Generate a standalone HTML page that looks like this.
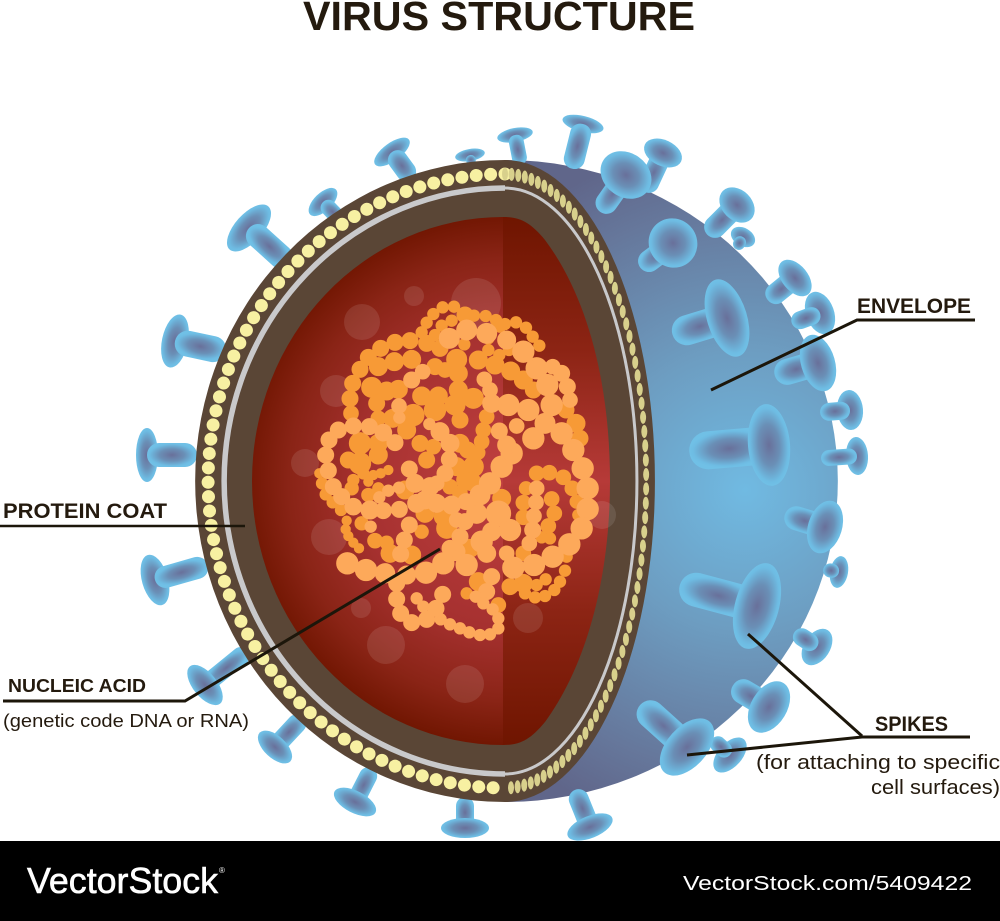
<!DOCTYPE html>
<html>
<head>
<meta charset="utf-8">
<style>
html,body{margin:0;padding:0;background:#fff;}
svg{display:block;}
text{font-family:"Liberation Sans",sans-serif;}
</style>
</head>
<body>
<svg xmlns="http://www.w3.org/2000/svg" width="1000" height="921" viewBox="0 0 1000 921">
<defs>
<radialGradient id="s"><stop offset="0" stop-color="#69709a"/><stop offset=".5" stop-color="#6a8fb6"/><stop offset=".9" stop-color="#6ebce3"/><stop offset="1" stop-color="#70c0e6"/></radialGradient>
<radialGradient id="body" gradientUnits="userSpaceOnUse" cx="745" cy="490" r="350"><stop offset="0" stop-color="#70bae2"/><stop offset=".4" stop-color="#6d9dc1"/><stop offset=".8" stop-color="#66789c"/><stop offset="1" stop-color="#60668a"/></radialGradient>
<radialGradient id="cavL" gradientUnits="userSpaceOnUse" cx="510" cy="480" r="270"><stop offset="0" stop-color="#c04040"/><stop offset=".55" stop-color="#a63130"/><stop offset=".82" stop-color="#8a2416"/><stop offset="1" stop-color="#6f1500"/></radialGradient>
<linearGradient id="cavR" x1="0" y1="0" x2="0" y2="1"><stop offset="0" stop-color="#6f1500"/><stop offset=".25" stop-color="#8c2414"/><stop offset=".5" stop-color="#b63a38"/><stop offset=".75" stop-color="#8c2414"/><stop offset="1" stop-color="#6f1500"/></linearGradient>
</defs>

<rect width="1000" height="921" fill="#fff"/>

<!-- blue body -->
<path d="M505,160 A333,321 0 0 1 505,802 Z" fill="url(#body)"/>

<!-- spikes -->
<g fill="url(#s)">
<g transform="translate(249,228) rotate(42)"><ellipse rx="14" ry="29"/><rect y="-12" width="55" height="24" rx="12"/></g>
<g transform="translate(323,202) rotate(46)"><ellipse rx="9" ry="18"/><rect y="-8" width="28" height="16" rx="8"/></g>
<g transform="translate(392,152) rotate(54)"><ellipse rx="9" ry="21"/><rect y="-10" width="34" height="20" rx="10"/></g>
<g transform="translate(470,155) rotate(80)"><ellipse rx="6" ry="15"/><rect y="-5" width="10" height="10" rx="5"/></g>
<g transform="translate(515,135) rotate(79)"><ellipse rx="7" ry="18"/><rect y="-7.5" width="30" height="15" rx="7"/></g>
<g transform="translate(583,124) rotate(104)"><ellipse rx="8" ry="21"/><rect y="-10.5" width="46" height="21" rx="10"/></g>
<g transform="translate(663,153) rotate(115)"><rect y="-10" width="43" height="20" rx="10"/><ellipse rx="13" ry="20"/></g>
<g transform="translate(626,175) rotate(125)"><rect y="-11" width="45" height="22" rx="11"/><ellipse rx="22" ry="27"/></g>
<g transform="translate(673,243) rotate(143)"><rect y="-11" width="41" height="22" rx="11"/><ellipse rx="24" ry="25"/></g>
<g transform="translate(737,205) rotate(135)"><rect y="-11" width="42" height="22" rx="11"/><ellipse rx="15" ry="20"/></g>
<g transform="translate(743,237) rotate(120)"><ellipse rx="9" ry="13"/><rect y="-6" width="14" height="12" rx="6"/></g>
<g transform="translate(795,278) rotate(141)"><rect y="-10.5" width="35" height="21" rx="10"/><ellipse rx="13" ry="21"/></g>
<g transform="translate(820,313) rotate(160)"><ellipse rx="14" ry="22"/><rect y="-9" width="30" height="18" rx="9"/></g>
<g transform="translate(727,318) rotate(163)"><rect y="-15" width="57" height="30" rx="15"/><ellipse rx="20" ry="40"/></g>
<g transform="translate(818,363) rotate(164)"><rect y="-13" width="45" height="26" rx="13"/><ellipse rx="17" ry="29"/></g>
<g transform="translate(850,410) rotate(175)"><ellipse rx="13" ry="20"/><rect y="-9" width="30" height="18" rx="9"/></g>
<g transform="translate(857,456) rotate(176)"><ellipse rx="11" ry="19"/><rect y="-8" width="36" height="16" rx="8"/></g>
<g transform="translate(769,445) rotate(175)"><rect y="-19" width="80" height="38" rx="19"/><ellipse rx="21" ry="41"/></g>
<g transform="translate(825,527) rotate(-163)"><rect y="-12" width="42" height="24" rx="12"/><ellipse rx="17" ry="27"/></g>
<g transform="translate(839,572) rotate(-170)"><ellipse rx="9" ry="16"/><rect y="-7" width="16" height="14" rx="7"/></g>
<g transform="translate(757,606) rotate(-165)"><rect y="-17" width="80" height="34" rx="17"/><ellipse rx="22" ry="44"/></g>
<g transform="translate(817,647) rotate(-147)"><ellipse rx="13" ry="20"/><rect y="-9" width="27" height="18" rx="9"/></g>
<g transform="translate(769,707) rotate(-149)"><rect y="-12.5" width="42" height="25" rx="12"/><ellipse rx="18" ry="28"/></g>
<g transform="translate(730,755) rotate(-138)"><ellipse rx="12" ry="21"/><rect y="-8" width="24" height="16" rx="8"/></g>
<g transform="translate(687,747) rotate(-138)"><rect y="-14" width="63" height="28" rx="14"/><ellipse rx="20" ry="34"/></g>
<g transform="translate(590,827) rotate(-112)"><rect y="-10" width="40" height="20" rx="10"/><ellipse rx="11" ry="24"/></g>
<g transform="translate(465,828) rotate(-90)"><rect y="-9" width="31" height="18" rx="9"/><ellipse rx="10" ry="24"/></g>
<g transform="translate(355,802) rotate(-63)"><rect y="-9" width="38" height="18" rx="9"/><ellipse rx="11" ry="23"/></g>
<g transform="translate(275,747) rotate(-47)"><rect y="-9.5" width="41" height="19" rx="9"/><ellipse rx="11" ry="21"/></g>
<g transform="translate(205,685) rotate(-39)"><rect y="-9" width="55" height="18" rx="9"/><ellipse rx="12" ry="24"/></g>
<g transform="translate(155,580) rotate(-16)"><ellipse rx="13" ry="26"/><rect y="-11" width="55" height="22" rx="11"/></g>
<g transform="translate(147,455)"><ellipse rx="11" ry="27"/><rect y="-12" width="50" height="24" rx="12"/></g>
<g transform="translate(175,341) rotate(12)"><ellipse rx="13" ry="27"/><rect y="-13" width="52" height="26" rx="13"/></g>
</g>

<!-- shell -->
<path d="M505,160 A310,321 0 0 0 505,802 A150,321 0 0 0 505,160 Z" fill="#5a4636"/>
<!-- gray ring -->
<path d="M505,188 A281,293 0 0 0 505,774" fill="none" stroke="#c9c9cb" stroke-width="5.5"/>
<path d="M505,188 A132,293 0 0 1 505,774" fill="none" stroke="#c9c9cb" stroke-width="3"/>
<!-- beads -->
<path d="M505,174 A297,307 0 0 0 505,788" fill="none" stroke="#f7f0a2" stroke-width="13" stroke-linecap="round" stroke-dasharray="0.01 14.4"/>
<g transform="translate(505,0) scale(.46,1)"><path d="M0,174 A307,307 0 0 1 0,788" fill="none" stroke="#d8d08c" stroke-width="13" stroke-linecap="round" stroke-dasharray="0.01 14.4"/></g>

<!-- cavity -->
<path d="M503,217 A251,264 0 0 0 503,745 Z" fill="url(#cavL)"/>
<path d="M503,217 C520,217 530,222 545,240 C590,300 610,390 610,481 C610,570 590,660 545,722 C530,740 520,745 503,745 Z" fill="url(#cavR)"/>

<!-- faint spots -->
<g fill="#fff" fill-opacity=".1">
<circle cx="362" cy="322" r="18"/><circle cx="414" cy="296" r="10"/><circle cx="476" cy="303" r="25"/>
<circle cx="336" cy="391" r="16"/><circle cx="305" cy="463" r="14"/><circle cx="329" cy="537" r="18"/>
<circle cx="361" cy="608" r="10"/><circle cx="386" cy="645" r="19"/><circle cx="465" cy="684" r="19"/>
<circle cx="528" cy="618" r="15"/><circle cx="602" cy="515" r="14"/>
</g>

<!-- nucleic acid -->
<g transform="translate(310,300) scale(.33333)">
<g fill="#f79a36" stroke="#f79a36" stroke-width="7">
<circle cx="398" cy="22" r="15"/><circle cx="432" cy="20" r="15"/><circle cx="370" cy="42" r="15"/><circle cx="350" cy="68" r="15"/><circle cx="465" cy="45" r="22"/><circle cx="492" cy="47" r="15"/><circle cx="527" cy="48" r="15"/><circle cx="558" cy="60" r="15"/><circle cx="585" cy="72" r="15"/><circle cx="618" cy="67" r="15"/><circle cx="648" cy="83" r="15"/><circle cx="668" cy="110" r="15"/><circle cx="688" cy="137" r="15"/><circle cx="425" cy="62" r="15"/><circle cx="395" cy="77" r="15"/><circle cx="375" cy="105" r="15"/><circle cx="335" cy="97" r="15"/><circle cx="300" cy="122" r="22"/><circle cx="255" cy="127" r="22"/><circle cx="212" cy="145" r="22"/><circle cx="175" cy="172" r="22"/><circle cx="150" cy="208" r="22"/><circle cx="128" cy="250" r="22"/><circle cx="120" cy="296" r="22"/><circle cx="123" cy="340" r="20"/><circle cx="205" cy="200" r="25"/><circle cx="253" cy="185" r="25"/><circle cx="305" cy="178" r="25"/><circle cx="185" cy="262" r="28"/><circle cx="230" cy="273" r="25"/><circle cx="265" cy="268" r="25"/><circle cx="335" cy="288" r="25"/><circle cx="385" cy="288" r="25"/><circle cx="375" cy="330" r="30"/><circle cx="310" cy="345" r="30"/><circle cx="290" cy="390" r="25"/><circle cx="248" cy="355" r="25"/><circle cx="205" cy="355" r="20"/><circle cx="200" cy="310" r="22"/><circle cx="350" cy="130" r="22"/><circle cx="390" cy="145" r="22"/><circle cx="440" cy="178" r="28"/><circle cx="375" cy="200" r="22"/><circle cx="405" cy="210" r="20"/><circle cx="445" cy="220" r="25"/><circle cx="505" cy="180" r="25"/><circle cx="555" cy="195" r="25"/><circle cx="602" cy="213" r="25"/><circle cx="535" cy="150" r="15"/><circle cx="568" cy="165" r="15"/><circle cx="597" cy="150" r="15"/><circle cx="598" cy="115" r="15"/><circle cx="463" cy="133" r="15"/><circle cx="570" cy="80" r="15"/><circle cx="535" cy="115" r="15"/><circle cx="445" cy="270" r="25"/><circle cx="435" cy="315" r="28"/><circle cx="490" cy="295" r="28"/><circle cx="450" cy="360" r="22"/><circle cx="530" cy="350" r="20"/><circle cx="520" cy="390" r="20"/><circle cx="515" cy="425" r="20"/><circle cx="505" cy="458" r="18"/><circle cx="473" cy="450" r="22"/><circle cx="490" cy="500" r="28"/><circle cx="470" cy="540" r="28"/><circle cx="450" cy="580" r="20"/><circle cx="640" cy="240" r="25"/><circle cx="670" cy="270" r="22"/><circle cx="768" cy="330" r="22"/><circle cx="798" cy="370" r="25"/><circle cx="810" cy="415" r="22"/><circle cx="718" cy="518" r="20"/><circle cx="760" cy="532" r="20"/><circle cx="787" cy="565" r="20"/><circle cx="800" cy="605" r="18"/><circle cx="805" cy="645" r="15"/><circle cx="725" cy="597" r="20"/><circle cx="733" cy="640" r="20"/><circle cx="715" cy="678" r="20"/><circle cx="720" cy="715" r="15"/><circle cx="695" cy="712" r="15"/><circle cx="640" cy="608" r="20"/><circle cx="640" cy="652" r="20"/><circle cx="648" cy="565" r="18"/><circle cx="680" cy="520" r="20"/><circle cx="640" cy="760" r="20"/><circle cx="575" cy="595" r="25"/><circle cx="150" cy="430" r="30"/><circle cx="205" cy="430" r="25"/><circle cx="115" cy="480" r="22"/><circle cx="150" cy="490" r="30"/><circle cx="205" cy="465" r="25"/><circle cx="160" cy="520" r="15"/><circle cx="235" cy="510" r="12"/><circle cx="212" cy="520" r="12"/><circle cx="190" cy="525" r="12"/><circle cx="175" cy="545" r="12"/><circle cx="205" cy="565" r="15"/><circle cx="175" cy="585" r="18"/><circle cx="125" cy="565" r="18"/><circle cx="130" cy="540" r="15"/><circle cx="36" cy="550" r="15"/><circle cx="28" cy="520" r="12"/><circle cx="47" cy="583" r="15"/><circle cx="68" cy="607" r="15"/><circle cx="93" cy="630" r="15"/><circle cx="110" cy="662" r="12"/><circle cx="107" cy="688" r="12"/><circle cx="115" cy="708" r="12"/><circle cx="130" cy="728" r="12"/><circle cx="147" cy="745" r="12"/><circle cx="155" cy="670" r="18"/><circle cx="195" cy="722" r="20"/><circle cx="230" cy="728" r="18"/><circle cx="240" cy="760" r="25"/><circle cx="305" cy="765" r="25"/><circle cx="335" cy="695" r="18"/><circle cx="410" cy="685" r="28"/><circle cx="480" cy="745" r="25"/><circle cx="505" cy="845" r="25"/><circle cx="470" cy="880" r="15"/><circle cx="600" cy="860" r="22"/><circle cx="640" cy="850" r="25"/><circle cx="680" cy="855" r="15"/><circle cx="707" cy="838" r="15"/><circle cx="733" cy="870" r="15"/><circle cx="750" cy="845" r="15"/><circle cx="765" cy="812" r="15"/><circle cx="705" cy="888" r="15"/><circle cx="675" cy="892" r="15"/><circle cx="645" cy="880" r="15"/><circle cx="610" cy="860" r="15"/><circle cx="565" cy="915" r="20"/><circle cx="770" cy="770" r="15"/><circle cx="485" cy="545" r="25"/><circle cx="420" cy="560" r="20"/><circle cx="400" cy="650" r="25"/><circle cx="345" cy="640" r="25"/><circle cx="285" cy="570" r="25"/><circle cx="330" cy="430" r="22"/><circle cx="350" cy="480" r="22"/><circle cx="450" cy="430" r="25"/><circle cx="440" cy="500" r="25"/><circle cx="370" cy="440" r="20"/>
</g>
<g fill="#fda95a" stroke="#fda95a" stroke-width="7">
<circle cx="418" cy="115" r="28"/><circle cx="470" cy="90" r="28"/><circle cx="530" cy="100" r="28"/><circle cx="590" cy="120" r="25"/><circle cx="640" cy="155" r="30"/><circle cx="680" cy="205" r="30"/><circle cx="712" cy="255" r="30"/><circle cx="728" cy="200" r="20"/><circle cx="755" cy="220" r="22"/><circle cx="772" cy="260" r="22"/><circle cx="780" cy="300" r="20"/><circle cx="725" cy="315" r="30"/><circle cx="655" cy="330" r="30"/><circle cx="595" cy="315" r="30"/><circle cx="545" cy="310" r="25"/><circle cx="338" cy="215" r="20"/><circle cx="305" cy="240" r="22"/><circle cx="523" cy="238" r="20"/><circle cx="540" cy="270" r="20"/><circle cx="267" cy="318" r="20"/><circle cx="268" cy="353" r="15"/><circle cx="358" cy="372" r="15"/><circle cx="390" cy="395" r="25"/><circle cx="420" cy="430" r="25"/><circle cx="418" cy="478" r="22"/><circle cx="405" cy="520" r="22"/><circle cx="360" cy="560" r="25"/><circle cx="315" cy="550" r="25"/><circle cx="298" cy="507" r="22"/><circle cx="255" cy="428" r="22"/><circle cx="220" cy="398" r="23"/><circle cx="178" cy="380" r="22"/><circle cx="130" cy="378" r="22"/><circle cx="85" cy="390" r="22"/><circle cx="57" cy="420" r="22"/><circle cx="47" cy="465" r="22"/><circle cx="55" cy="512" r="22"/><circle cx="70" cy="560" r="22"/><circle cx="95" cy="590" r="22"/><circle cx="130" cy="620" r="23"/><circle cx="180" cy="630" r="25"/><circle cx="220" cy="632" r="22"/><circle cx="268" cy="628" r="22"/><circle cx="320" cy="610" r="25"/><circle cx="345" cy="600" r="25"/><circle cx="380" cy="610" r="25"/><circle cx="425" cy="615" r="25"/><circle cx="468" cy="605" r="22"/><circle cx="510" cy="585" r="28"/><circle cx="540" cy="550" r="30"/><circle cx="575" cy="500" r="30"/><circle cx="605" cy="460" r="30"/><circle cx="590" cy="435" r="25"/><circle cx="568" cy="393" r="22"/><circle cx="620" cy="378" r="20"/><circle cx="670" cy="415" r="30"/><circle cx="705" cy="370" r="28"/><circle cx="755" cy="400" r="30"/><circle cx="790" cy="450" r="30"/><circle cx="818" cy="505" r="30"/><circle cx="833" cy="565" r="30"/><circle cx="833" cy="627" r="30"/><circle cx="815" cy="685" r="30"/><circle cx="778" cy="733" r="30"/><circle cx="728" cy="770" r="30"/><circle cx="672" cy="795" r="30"/><circle cx="610" cy="803" r="30"/><circle cx="565" cy="640" r="35"/><circle cx="600" cy="690" r="30"/><circle cx="545" cy="695" r="25"/><circle cx="515" cy="725" r="30"/><circle cx="465" cy="665" r="22"/><circle cx="450" cy="710" r="22"/><circle cx="438" cy="755" r="25"/><circle cx="400" cy="790" r="30"/><circle cx="348" cy="818" r="30"/><circle cx="470" cy="795" r="30"/><circle cx="545" cy="830" r="22"/><circle cx="530" cy="875" r="22"/><circle cx="497" cy="890" r="15"/><circle cx="520" cy="910" r="15"/><circle cx="548" cy="928" r="15"/><circle cx="565" cy="955" r="15"/><circle cx="565" cy="985" r="15"/><circle cx="540" cy="1003" r="15"/><circle cx="510" cy="1005" r="15"/><circle cx="478" cy="997" r="15"/><circle cx="450" cy="985" r="15"/><circle cx="420" cy="973" r="15"/><circle cx="392" cy="958" r="15"/><circle cx="350" cy="958" r="22"/><circle cx="305" cy="968" r="22"/><circle cx="272" cy="940" r="22"/><circle cx="260" cy="897" r="22"/><circle cx="260" cy="850" r="22"/><circle cx="320" cy="895" r="15"/><circle cx="340" cy="920" r="15"/><circle cx="378" cy="925" r="22"/><circle cx="398" cy="883" r="22"/><circle cx="290" cy="825" r="25"/><circle cx="225" cy="820" r="27"/><circle cx="168" cy="810" r="30"/><circle cx="112" cy="790" r="30"/><circle cx="298" cy="675" r="22"/><circle cx="283" cy="720" r="22"/><circle cx="272" cy="762" r="22"/><circle cx="182" cy="680" r="15"/><circle cx="235" cy="572" r="15"/><circle cx="267" cy="563" r="15"/><circle cx="208" cy="592" r="15"/><circle cx="680" cy="565" r="20"/><circle cx="678" cy="607" r="20"/><circle cx="672" cy="648" r="20"/><circle cx="668" cy="690" r="22"/><circle cx="658" cy="730" r="20"/><circle cx="500" cy="640" r="28"/><circle cx="530" cy="760" r="25"/><circle cx="590" cy="760" r="20"/><circle cx="420" cy="745" r="22"/><circle cx="440" cy="660" r="20"/><circle cx="380" cy="550" r="20"/>
</g>
</g>

<!-- leader lines -->
<g fill="none" stroke="#1c160a" stroke-width="3">
<polyline points="711,390 857,320 975,320"/>
<polyline points="0,526 245,526" stroke-width="2.5"/>
<polyline points="3,701 185,701 440,549"/>
<polyline points="748,634 862,736"/>
<polyline points="687,755 862,737 970,737"/>
</g>

<!-- labels -->
<g fill="#241a0e">
<text x="303" y="30" font-size="41" font-weight="bold" textLength="392" lengthAdjust="spacingAndGlyphs">VIRUS STRUCTURE</text>
<text x="3" y="518" font-size="21" font-weight="bold" textLength="164" lengthAdjust="spacingAndGlyphs">PROTEIN COAT</text>
<text x="857" y="313" font-size="21" font-weight="bold" textLength="114" lengthAdjust="spacingAndGlyphs">ENVELOPE</text>
<text x="8" y="692" font-size="18" font-weight="bold" textLength="138" lengthAdjust="spacingAndGlyphs">NUCLEIC ACID</text>
<text x="3" y="727" font-size="18" textLength="246" lengthAdjust="spacingAndGlyphs">(genetic code DNA or RNA)</text>
<text x="875" y="731" font-size="21" font-weight="bold" textLength="73" lengthAdjust="spacingAndGlyphs">SPIKES</text>
<text x="756" y="769" font-size="20" textLength="244" lengthAdjust="spacingAndGlyphs">(for attaching to specific</text>
<text x="871" y="794" font-size="20" textLength="129" lengthAdjust="spacingAndGlyphs">cell surfaces)</text>
</g>

<!-- footer -->
<rect x="0" y="841" width="1000" height="80" fill="#000"/>
<text x="27" y="893" font-size="36" fill="#fff" stroke="#fff" stroke-width=".6" textLength="191" lengthAdjust="spacingAndGlyphs">VectorStock</text>
<text x="219" y="873" font-size="8" fill="#fff">®</text>
<text x="683" y="890" font-size="20" fill="#fff" textLength="289" lengthAdjust="spacingAndGlyphs">VectorStock.com/5409422</text>
</svg>
</body>
</html>
